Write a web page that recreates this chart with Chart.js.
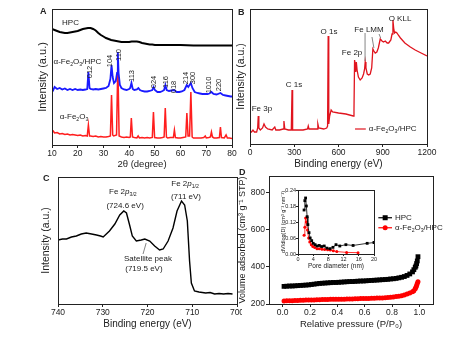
<!DOCTYPE html>
<html>
<head>
<meta charset="utf-8">
<script src="https://cdn.jsdelivr.net/npm/chart.js@4.4.1/dist/chart.umd.min.js"></script>
<style>
  body { margin: 0; background: #fff; }
  #wrap { position: relative; width: 474px; height: 338px; overflow: hidden; background: #fff; }
  #wrap canvas { position: absolute; }
  .tag { position: absolute; font: bold 9px "Liberation Sans", Arial, sans-serif; color: #222; }
</style>
</head>
<body>
<div id="wrap">
  <canvas id="chartA" width="209" height="170" style="left:28px;top:0px"></canvas>
  <canvas id="chartB" width="241" height="170" style="left:233px;top:0px"></canvas>
  <canvas id="chartC" width="212" height="170" style="left:30px;top:168px"></canvas>
  <canvas id="chartD" width="237" height="170" style="left:237px;top:168px"></canvas>
  <canvas id="chartInset" width="99" height="85" style="left:279px;top:185px"></canvas>
  <div class="tag" style="left:40px;top:6px">A</div>
  <div class="tag" style="left:238px;top:7px">B</div>
  <div class="tag" style="left:43px;top:173px">C</div>
  <div class="tag" style="left:239px;top:167px">D</div>
</div>
<script>
// ---- data ----
// A: XRD, [2theta, intensity a.u.]
const xrdHPC = [[10,116],[11,115],[12,114],[13,113],[14,112.5],[15,112],[16,112],[17,112.5],[18,113],[19,113.5],[20,114],[21,115],[22,116],[23,116.5],[24,117],[25,117],[26,116],[27,114.5],[28,112],[29,110],[30,108.5],[31,107],[32,106],[33,105],[34,104.5],[35,104],[36,103.5],[37,103],[38,103],[39,103],[40,103],[41,103.5],[42,103.5],[43,103.5],[44,103],[45,102],[46,101.5],[47,101],[48,100.5],[49,100.5],[50,100],[52,100],[54,100],[56,100],[60,100],[65,99.5],[70,99.5],[75,99.5],[80,99.5]];
const xrdComposite = [[10,57],[10.5,55],[11,58],[12,56],[13,57],[14,55.5],[15,56.5],[16,55],[17,56],[18,55],[19,56],[20,55],[21,55.5],[22,55],[23,55.5],[23.7,56],[24.15,73],[24.6,57],[25,56],[26,55.5],[27,56],[28,55.5],[29,56],[30,56.5],[31,57],[32,59],[32.7,66],[33.15,80],[33.6,68],[34.1,62],[34.8,64],[35.3,72],[35.6,93],[35.9,72],[36.4,60],[37,57],[38,55.5],[39,55],[40,56],[40.4,57],[40.9,62],[41.4,56],[42,55],[43,55.5],[43.6,57],[44.2,55],[45,54],[46,53.5],[47,53.5],[48,54],[49,55],[49.5,58],[50,55],[51,53],[52,53],[53,54],[53.6,55],[54.1,60],[54.6,55],[55.5,54],[56.5,54.5],[57.5,55],[58.5,53],[59.5,53],[60.5,53.5],[61.5,55],[62.4,60],[63,58],[64,62],[64.6,57],[65.5,53],[66.5,52],[67.5,51.5],[68.5,51],[69.5,51],[70.5,51],[71.2,51.5],[72,53],[72.8,51],[74,50.5],[75.5,52],[76.5,50],[77.5,49.5],[78.5,49],[79.5,48.5],[80,48.5]];
const xrdFe2O3 = [[10,13],[10.5,14],[11,12],[12,12.5],[13,11],[14,11.5],[15,10.5],[16,11],[17,10],[18,10.5],[19,10],[20,9.5],[21,10],[22,9],[23,9.5],[23.7,9],[24.15,20],[24.6,9],[25,9],[26,8.5],[27,9],[28,8],[29,8.5],[30,8],[31,8],[32,8.5],[32.7,9],[33.15,50],[33.6,10],[34,9],[35.1,10],[35.6,82],[36.1,9],[37,8],[38,7.5],[39,8],[40,7.5],[40.45,8],[40.85,27],[41.3,8],[42,7.5],[43,7],[43.5,9],[44,7],[45,7.5],[46,7],[47,7.5],[48,7],[49,7.5],[49.45,33],[49.9,7.5],[51,7],[52,7],[53,7.5],[53.6,8],[54.05,37],[54.5,8],[55,7],[56,7.5],[57.2,7.5],[57.6,15],[58,7.5],[59,7],[60,7],[61,7.5],[62,8],[62.45,32],[62.9,9],[63.5,9],[64.0,53],[64.5,8],[65,7],[66,7],[67,7],[68,7],[69,7.5],[69.6,9],[70,7],[71,7.5],[71.6,8],[72.0,13],[72.4,8],[73,7],[74,7],[75.1,7.5],[75.5,18],[75.9,7.5],[77,7],[77.7,10],[78.2,7],[79,7],[80,6.5]];
const xrdPeakLabels = ['012','104','110','113','024','116','018','214','300','1010','220'];
const xrdPeakAnchors = [[24.8,73],[32.6,84],[36.1,90],[41.1,69],[49.7,63],[54.3,63],[57.4,58],[62.1,67],[64.8,67],[71.1,60],[75.0,60]];
const xrdAngleTicks = [10, 80, 10];

// B: XPS survey, [binding energy eV, intensity a.u.]
const xpsSurvey = [[0,13],[10,12],[20,14],[30,12],[45,12],[52,16],[56,28],[60,16],[70,14],[85,16],[95,20],[105,17],[120,15],[150,14],[168,17],[175,14],[200,14],[225,15],[230,23],[236,15],[260,14],[280,14],[285,54],[289,14],[320,14],[360,14],[390,15],[395,18],[400,15],[440,15],[455,15],[460,20],[466,16],[500,15],[520,16],[526,18],[530,108],[534,20],[540,28],[550,34],[560,32],[600,31],[650,30],[700,28],[705,34],[709,84],[713,80],[717,72],[721,82],[726,74],[735,67],[747,64],[760,66],[770,70],[777,75],[781,82],[786,76],[795,70],[805,69],[815,70],[825,76],[833,95],[840,93],[849,91],[860,92],[870,96],[883,105],[895,103],[905,102],[917,103],[930,101],[940,101],[955,104],[963,110],[969,124],[974,116],[980,111],[988,112],[996,111],[1005,109],[1020,106],[1050,101],[1087,97],[1120,94],[1160,91],[1200,88]];
const surveyTicks = [0, 1200, 300];

// C: Fe 2p high resolution, [binding energy eV, intensity a.u.]
const fe2p = [[740,64],[739,65],[738.1,65],[737,67],[735.9,68],[734.8,70],[733.7,71],[732.5,70],[731.4,69],[730.5,68],[729.9,67],[729.2,70],[728.5,73],[727.3,80],[726.2,89],[725.3,93],[724.7,91],[724.0,79],[723.4,68],[722.5,63],[721.4,64],[720.6,65],[719.5,63],[718.4,58],[717.3,54],[716.5,55],[715.4,63],[714.3,76],[713.4,93],[712.4,103],[711.7,99],[711.1,83],[710.6,43],[710.2,21],[709.5,13],[708.5,12],[707,11],[706,11.5],[705,10],[704,10.5],[703,10],[702,10.5],[701,10]];
const fe2pTicks = [700, 740, 10];

// D: N2 isotherms, [P/P0, volume cm3/g]
const isoHPC = [[0.01,295],[0.03,296],[0.05,297],[0.07,297],[0.09,298],[0.11,299],[0.13,300],[0.15,301],[0.17,302],[0.19,303],[0.21,305],[0.23,307],[0.25,309],[0.27,311],[0.29,312],[0.31,313],[0.33,314],[0.35,315],[0.37,316],[0.39,316],[0.41,317],[0.43,318],[0.45,319],[0.47,320],[0.49,321],[0.51,321],[0.53,322],[0.55,323],[0.57,324],[0.59,324],[0.61,325],[0.63,326],[0.65,327],[0.67,328],[0.69,329],[0.71,330],[0.73,331],[0.75,332],[0.77,333],[0.79,335],[0.81,336],[0.83,338],[0.85,341],[0.87,344],[0.89,348],[0.91,354],[0.93,362],[0.95,373],[0.96,385],[0.97,398],[0.975,405],[0.98,418],[0.985,432],[0.99,455]];
const isoFe2O3 = [[0.01,216],[0.03,217],[0.05,218],[0.07,218],[0.09,219],[0.11,219],[0.13,220],[0.15,220],[0.17,221],[0.19,221],[0.21,222],[0.23,222],[0.25,223],[0.27,223],[0.29,224],[0.31,224],[0.33,224],[0.35,225],[0.37,225],[0.39,225],[0.41,226],[0.43,226],[0.45,226],[0.47,227],[0.49,227],[0.51,227],[0.53,228],[0.55,228],[0.57,229],[0.59,229],[0.61,230],[0.63,230],[0.65,231],[0.67,231],[0.69,232],[0.71,233],[0.73,233],[0.75,234],[0.77,235],[0.79,236],[0.81,238],[0.83,240],[0.85,242],[0.87,245],[0.89,249],[0.91,254],[0.93,259],[0.95,266],[0.96,272],[0.97,282],[0.975,290],[0.98,300],[0.985,310],[0.99,320]];
const isoPressureTicks = [0, 1, 0.2];
const isoVolumeTicks = [200, 800, 200];

// D inset: pore size distribution, [pore diameter nm, dV/dlogD]
const psdHPC = [[1.6,0.165],[1.8,0.2],[2.0,0.21],[2.2,0.18],[2.4,0.14],[2.6,0.11],[2.9,0.08],[3.2,0.06],[3.6,0.05],[4.0,0.04],[4.5,0.035],[5.0,0.03],[5.6,0.032],[6.2,0.028],[6.9,0.03],[7.6,0.022],[8.4,0.02],[9.2,0.025],[10.0,0.035],[11.0,0.03],[12.6,0.035],[14.5,0.032],[18.2,0.04],[20,0.043]];
const psdFe2O3 = [[1.6,0.07],[1.8,0.1],[2.0,0.135],[2.2,0.12],[2.5,0.09],[2.8,0.06],[3.1,0.045],[3.5,0.035],[3.9,0.028],[4.4,0.024],[5.0,0.02],[5.6,0.02],[6.3,0.018],[7.0,0.017],[7.8,0.016],[8.5,0.015],[9.3,0.012],[10.2,0.009],[12.8,0.006],[15.8,0.005]];
const psdDiameterTicks = [0, 20, 4];
const psdVolumeTicks = [0, 0.24, 0.06];

// ---- helpers ----
const FONT = '"Liberation Sans",Arial,sans-serif';
const INK = '#222';
const FE2O3 = ['α-Fe', {t: '2', sub: true}, 'O', {t: '3', sub: true}];

const toXY = pairs => pairs.map(p => ({x: p[0], y: p[1]}));

// tick values from [first, last, step]
function tickList(r) {
  const out = [];
  for (let i = 0; r[0] + i * r[2] <= r[1] + 1e-9; i++) out.push({value: +(r[0] + i * r[2]).toFixed(6)});
  return out;
}

function fontFor(p, size) {
  const s = (p.sub || p.sup) ? size * 0.65 : size;
  return (p.it ? 'italic ' : '') + s + 'px ' + FONT;
}

// draws mixed text (subscripts / italics) centred or left aligned at x,y
function richText(ctx, parts, x, y, size, align) {
  const items = parts.map(p => typeof p === 'string' ? {t: p} : p);
  let w = 0;
  items.forEach(p => { ctx.font = fontFor(p, size); p.w = ctx.measureText(p.t).width; w += p.w; });
  let cx = align === 'left' ? x : x - w / 2;
  ctx.textAlign = 'left';
  ctx.textBaseline = 'middle';
  items.forEach(p => {
    ctx.font = fontFor(p, size);
    const dy = p.sub ? size * 0.3 : p.sup ? -size * 0.35 : 0;
    ctx.fillText(p.t, cx, y + dy);
    cx += p.w;
  });
}

const boxPlugin = {
  id: 'box',
  afterDraw(chart) {
    const {ctx, chartArea: a} = chart;
    ctx.save();
    ctx.strokeStyle = INK;
    ctx.lineWidth = 1;
    ctx.strokeRect(Math.round(a.left) + 0.5, Math.round(a.top) + 0.5, Math.round(a.right - a.left), Math.round(a.bottom - a.top));
    ctx.restore();
  }
};

function notesPlugin(notes, lines) {
  return {
    id: 'notes',
    afterDatasetsDraw(chart) {
      const {ctx, scales: {x, y}} = chart;
      ctx.save();
      (lines || []).forEach(l => {
        ctx.strokeStyle = '#666';
        ctx.lineWidth = 0.8;
        ctx.beginPath();
        ctx.moveTo(x.getPixelForValue(l[0]), y.getPixelForValue(l[1]));
        ctx.lineTo(x.getPixelForValue(l[2]), y.getPixelForValue(l[3]));
        ctx.stroke();
      });
      ctx.fillStyle = INK;
      notes.forEach(n => {
        ctx.save();
        ctx.translate(x.getPixelForValue(n.x), y.getPixelForValue(n.y));
        if (n.rot) ctx.rotate(-Math.PI / 2);
        richText(ctx, n.parts, 0, 0, n.size || 8, n.align);
        ctx.restore();
      });
      ctx.restore();
    }
  };
}

// entries: {parts, color, marker, x1, x2, y} in data units
function legendPlugin(entries) {
  return {
    id: 'legendBox',
    afterDraw(chart) {
      const {ctx, scales: {x, y}} = chart;
      ctx.save();
      entries.forEach(e => {
        const x1 = x.getPixelForValue(e.x1), x2 = x.getPixelForValue(e.x2), py = y.getPixelForValue(e.y);
        ctx.strokeStyle = e.color;
        ctx.fillStyle = e.color;
        ctx.lineWidth = 1.2;
        ctx.beginPath(); ctx.moveTo(x1, py); ctx.lineTo(x2, py); ctx.stroke();
        const mx = (x1 + x2) / 2;
        if (e.marker === 'rect') ctx.fillRect(mx - 2.5, py - 2.5, 5, 5);
        if (e.marker === 'circle') { ctx.beginPath(); ctx.arc(mx, py, 2.5, 0, Math.PI * 2); ctx.fill(); }
        ctx.fillStyle = INK;
        richText(ctx, e.parts, x2 + 3, py, e.size || 8, 'left');
      });
      ctx.restore();
    }
  };
}

function xAxis(range, bounds, opts) {
  return {
    type: 'linear', min: bounds[0], max: bounds[1], reverse: !!opts.reverse,
    afterFit: s => { s.height = opts.h; s.paddingLeft = 0; s.paddingRight = 0; },
    afterBuildTicks: s => { s.ticks = tickList(range); },
    grid: {display: true, drawOnChartArea: false, drawTicks: true, tickLength: opts.tl || 3, color: INK},
    border: {display: false},
    ticks: {padding: opts.tp === undefined ? 1 : opts.tp, color: INK, maxRotation: 0, autoSkip: false,
            font: {family: FONT, size: opts.tickSize || 8.5},
            callback: opts.fmt || (v => String(v))},
    title: {display: true, text: opts.title, color: INK, padding: {top: 0, bottom: opts.tb || 0},
            font: {family: FONT, size: opts.titleSize || 9.5}}
  };
}

function yAxis(opts) {
  const ax = {
    type: 'linear', min: opts.min, max: opts.max,
    afterFit: s => { s.width = opts.w; s.paddingTop = 0; s.paddingBottom = 0; },
    grid: {display: false},
    border: {display: false},
    ticks: {display: false},
    title: {display: true, text: opts.title, color: INK, padding: {top: opts.tp || 0, bottom: 0},
            font: {family: FONT, size: opts.titleSize || 10.5}}
  };
  if (opts.range) {
    ax.afterBuildTicks = s => { s.ticks = tickList(opts.range); };
    ax.grid = {display: true, drawOnChartArea: false, drawTicks: true, tickLength: opts.tl || 3, color: INK};
    ax.ticks = {display: true, padding: opts.tpad === undefined ? 1 : opts.tpad, color: INK, autoSkip: false,
                font: {family: FONT, size: opts.tickSize || 8.5}, callback: opts.fmt || (v => String(v))};
  }
  return ax;
}

function baseOptions(pad, x, y) {
  return {
    responsive: false, animation: false, devicePixelRatio: 1,
    layout: {padding: pad},
    plugins: {legend: {display: false}, tooltip: {enabled: false}},
    elements: {line: {tension: 0}},
    scales: {x: x, y: y}
  };
}

function lineSet(pairs, color, width) {
  return {data: toXY(pairs), borderColor: color, borderWidth: width, pointRadius: 0, fill: false};
}

// ---- A: XRD ----
const xrdNotes = [
  {parts: ['HPC'], x: 13.9, y: 122, align: 'left'},
  {parts: FE2O3.concat(['/HPC']), x: 10.6, y: 83, align: 'left'},
  {parts: FE2O3, x: 13.0, y: 28, align: 'left'}
].concat(xrdPeakLabels.map((t, i) => ({parts: [t], x: xrdPeakAnchors[i][0], y: xrdPeakAnchors[i][1], rot: true, size: 7.5})));

new Chart(document.getElementById('chartA'), {
  type: 'line',
  data: {datasets: [
    lineSet(xrdHPC, '#000', 2),
    lineSet(xrdComposite, '#1a1aff', 1.8),
    lineSet(xrdFe2O3, '#ff1e1e', 1.5)
  ]},
  options: baseOptions({top: 9, right: 5, left: 0, bottom: 0},
    xAxis(xrdAngleTicks, [10, 80], {h: 25, title: '2θ (degree)', titleSize: 9.5}),
    yAxis({min: 0, max: 136, w: 24, title: 'Intensity (a.u.)', tp: 8, titleSize: 11})),
  plugins: [boxPlugin, notesPlugin(xrdNotes)]
});

// ---- B: XPS survey ----
const surveyNotes = [
  {parts: ['O 1s'], x: 536, y: 112},
  {parts: ['C 1s'], x: 298, y: 59},
  {parts: ['Fe 3p'], x: 81, y: 35},
  {parts: ['Fe 2p'], x: 692, y: 91},
  {parts: ['Fe LMM'], x: 807, y: 114},
  {parts: ['O KLL'], x: 1017, y: 125}
];
const surveyPointers = [[780, 111, 780, 83], [827, 107, 840, 96], [875, 110, 886, 106]];

new Chart(document.getElementById('chartB'), {
  type: 'line',
  data: {datasets: [lineSet(xpsSurvey, '#e0141e', 1.3)]},
  options: baseOptions({top: 9, right: 47, left: 0, bottom: 0},
    xAxis(surveyTicks, [0, 1200], {h: 26, title: 'Binding energy (eV)', titleSize: 10}),
    yAxis({min: 0, max: 135, w: 17, title: 'Intensity (a.u.)', tp: 2})),
  plugins: [boxPlugin, notesPlugin(surveyNotes, surveyPointers),
    legendPlugin([{parts: FE2O3.concat(['/HPC']), color: '#e0141e', x1: 712, x2: 785, y: 15}])]
});

// ---- C: Fe 2p ----
const fe2pNotes = [
  {parts: ['Fe 2', {t: 'p', it: true}, {t: '3/2', sub: true}], x: 725.5, y: 112},
  {parts: ['(724.6 eV)'], x: 725.0, y: 98},
  {parts: ['Fe 2', {t: 'p', it: true}, {t: '1/2', sub: true}], x: 711.6, y: 120},
  {parts: ['(711 eV)'], x: 711.4, y: 107},
  {parts: ['Satellite peak'], x: 719.9, y: 45},
  {parts: ['(719.5 eV)'], x: 720.8, y: 35}
];

new Chart(document.getElementById('chartC'), {
  type: 'line',
  data: {datasets: [lineSet(fe2p, '#000', 1.4)]},
  options: baseOptions({top: 9, right: 5, left: 0, bottom: 0},
    xAxis(fe2pTicks, [700, 740], {h: 34, reverse: true, title: 'Binding energy (eV)', titleSize: 10, tb: 8}),
    yAxis({min: 0, max: 127, w: 28, title: 'Intensity (a.u.)', tp: 10})),
  plugins: [boxPlugin, notesPlugin(fe2pNotes, [[720.3, 61, 721.0, 50]])]
});

// ---- D: isotherms ----
new Chart(document.getElementById('chartD'), {
  type: 'line',
  data: {datasets: [
    {data: toXY(isoHPC), borderColor: '#000', backgroundColor: '#000', borderWidth: 1, pointStyle: 'rect', pointRadius: 3.4, pointBorderWidth: 0},
    {data: toXY(isoFe2O3), borderColor: '#ff0000', backgroundColor: '#ff0000', borderWidth: 1, pointStyle: 'circle', pointRadius: 2.5, pointBorderWidth: 0}
  ]},
  options: baseOptions({top: 8, right: 41, left: 0, bottom: 0},
    xAxis(isoPressureTicks, [-0.1, 1.1], {h: 34, title: 'Relative pressure (P/P₀)', titleSize: 9.5, tb: 8, fmt: v => v.toFixed(1)}),
    yAxis({min: 200, max: 890, w: 32, range: isoVolumeTicks, title: 'Volume adsorbed (cm³ g⁻¹ STP)', titleSize: 9, tp: 0})),
  plugins: [boxPlugin, legendPlugin([
    {parts: ['HPC'], color: '#000', marker: 'rect', x1: 0.70, x2: 0.80, y: 665},
    {parts: FE2O3.concat(['/HPC']), color: '#ff0000', marker: 'circle', x1: 0.70, x2: 0.80, y: 611}
  ])]
});

// ---- D inset: pore size distribution ----
new Chart(document.getElementById('chartInset'), {
  type: 'line',
  data: {datasets: [
    {data: toXY(psdHPC), borderColor: '#000', backgroundColor: '#000', borderWidth: 0.8, pointStyle: 'rect', pointRadius: 2, pointBorderWidth: 0},
    {data: toXY(psdFe2O3), borderColor: '#ff0000', backgroundColor: '#ff0000', borderWidth: 0.8, pointStyle: 'circle', pointRadius: 1.5, pointBorderWidth: 0}
  ]},
  options: baseOptions({top: 5, right: 3, left: 0, bottom: 0},
    xAxis(psdDiameterTicks, [0, 20], {h: 16, title: 'Pore diameter (nm)', titleSize: 6.5, tickSize: 5.5, tl: 2, tp: 0}),
    yAxis({min: 0, max: 0.24, w: 19, range: psdVolumeTicks, title: 'dV/dlog(D) (cm³ g⁻¹ nm⁻¹)', titleSize: 5.5, tp: 1,
           tickSize: 5.5, tl: 2, tpad: 0, fmt: v => v.toFixed(2)})),
  plugins: [boxPlugin]
});
</script>
</body>
</html>
